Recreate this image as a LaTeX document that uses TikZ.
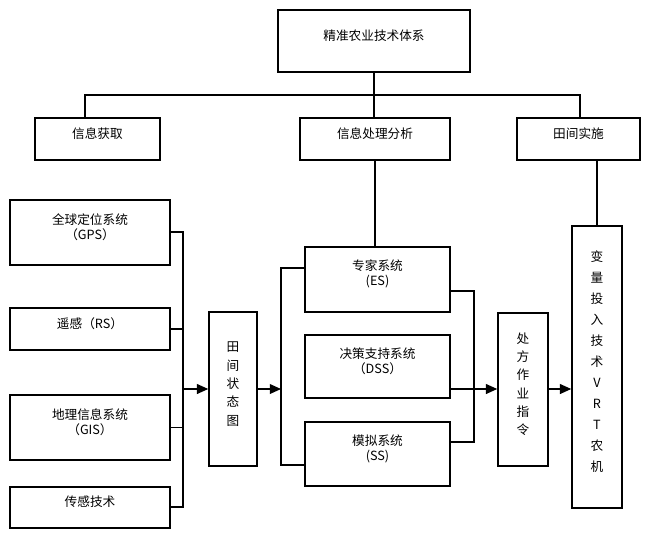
\documentclass[tikz,border=0pt]{standalone}
\usepackage{fontspec}
\newfontfamily\cjk{Noto Sans CJK SC}
\usetikzlibrary{arrows.meta,fit}

\begin{document}
\begin{tikzpicture}[x=0.025cm,y=-0.025cm,>={Triangle[width=7pt,length=8pt]},
    box/.style={draw,line width=1.1pt,inner sep=0pt,font=\cjk\small,align=center},
    line/.style={line width=0.9pt}]
  \useasboundingbox (0,0) rectangle (652,534);
  % top levels
  \node[box,fit={(278,10)(470,72)}] (root) {精准农业技术体系};
  \node[box,fit={(35,118)(160,160)}] (acq) {信息获取};
  \node[box,fit={(300,118)(450,160)}] (proc) {信息处理分析};
  \node[box,fit={(517,118)(640,160)}] (impl) {田间实施};
  \coordinate (b1) at (85,95);
  \coordinate (b2) at (580,95);
  \draw[line] (root) -- (root|-b1);
  \draw[line] (acq.north-|b1) -- (b1) -- (b2) -- (impl.north-|b2);
  \draw[line] (root|-b1) -- (proc.north-|root);
  % information sources
  \node[box,fit={(10,200)(170,265)}] (gps) {全球定位系统\\（GPS）};
  \node[box,fit={(10,308)(170,350)}] (rs) {遥感（RS）};
  \node[box,fit={(10,395)(170,460)}] (gis) {地理信息系统\\（GIS）};
  \node[box,fit={(10,487)(170,528)}] (sens) {传感技术};
  \coordinate (lb1) at (183,232);
  \coordinate (lb2) at (183,507);
  \draw[line] (gps.east|-lb1) -- (lb1) -- (lb2) -- (sens.east|-lb2);
  \draw[line] (rs) -- (rs-|lb1);
  \draw[line] (gis) -- (gis-|lb1);
  % field map
  \node[box,fit={(209,312)(257,466)}] (map) {田\\[2pt]间\\[2pt]状\\[2pt]态\\[2pt]图};
  \draw[line,->] (lb1|-map) -- (map);
  % analysis systems
  \node[box,fit={(305,247)(450,312)}] (es) {专家系统\\(ES)};
  \node[box,fit={(305,335)(450,398)}] (dss) {决策支持系统\\（DSS）};
  \node[box,fit={(305,422)(450,486)}] (ss) {模拟系统\\(SS)};
  \draw[line] (proc) -- (es.north-|proc);
  \coordinate (mb1) at (281,268);
  \coordinate (mb2) at (281,465);
  \draw[line,->] (map) -- (map-|mb1);
  \draw[line] (es.west|-mb1) -- (mb1) -- (mb2) -- (ss.west|-mb2);
  \coordinate (rb1) at (474,291);
  \coordinate (rb2) at (474,442);
  \draw[line] (es.east|-rb1) -- (rb1) -- (rb2) -- (ss.east|-rb2);
  % output
  \node[box,fit={(498,313)(548,466)}] (cmd) {处\\[2pt]方\\[2pt]作\\[2pt]业\\[2pt]指\\[2pt]令};
  \node[box,fit={(572,226)(622,508)}] (vrt) {变\\[4pt]量\\[4pt]投\\[4pt]入\\[4pt]技\\[4pt]术\\[4pt]V\\[4pt]R\\[4pt]T\\[4pt]农\\[4pt]机};
  \draw[line,->] (dss.east|-map) -- (cmd.west|-map);
  \draw[line,->] (cmd.east|-map) -- (vrt.west|-map);
  \draw[line] (impl.south-|vrt) -- (vrt);
\end{tikzpicture}
\end{document}
